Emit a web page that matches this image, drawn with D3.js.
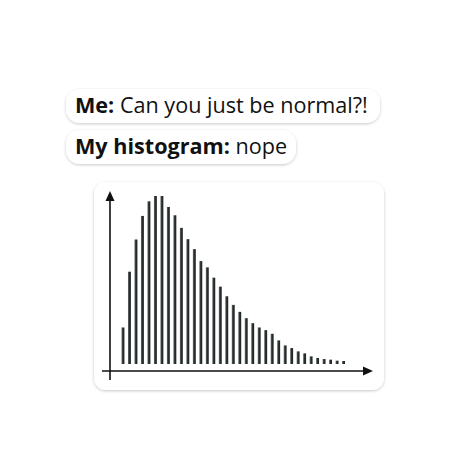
<!DOCTYPE html>
<html><head><meta charset="utf-8">
<script src="https://cdn.jsdelivr.net/npm/d3@7"></script>
<style>body{margin:0;background:#fff}</style></head>
<body><svg id="c" width="474" height="474"></svg>
<script>
const values=[110,278,375,446,490,506,506,473,448,410,376,346,310,291,260,233,204,178,157,138,123,110,102,91,71,56,48,38,32,23,18,15,13,10,9];
const bins=d3.range(values.length);
const line1Bold="Me:", line1Rest=" Can you just be normal?!";
const line2Bold="My histogram:", line2Rest=" nope";

const svg=d3.select("#c");
const defs=svg.append("defs");
const f=defs.append("filter").attr("id","sh").attr("x","-10%").attr("y","-20%").attr("width","120%").attr("height","140%");
f.append("feDropShadow").attr("dx",0).attr("dy",1).attr("stdDeviation",1.5).attr("flood-color","#000").attr("flood-opacity",0.22);
const g=defs.append("linearGradient").attr("id","bar");
g.append("stop").attr("offset","0").attr("stop-color","#6a7070");
g.append("stop").attr("offset","0.45").attr("stop-color","#2a3030");
g.append("stop").attr("offset","1").attr("stop-color","#1c2222");

svg.append("rect").attr("x",66).attr("y",89).attr("width",314).attr("height",34).attr("rx",14).attr("fill","#fff").attr("filter","url(#sh)");
svg.append("rect").attr("x",66).attr("y",130).attr("width",230).attr("height",34).attr("rx",14).attr("fill","#fff").attr("filter","url(#sh)");
svg.append("rect").attr("x",94).attr("y",182).attr("width",290).attr("height",208).attr("rx",12).attr("fill","#fff").attr("filter","url(#sh)");

const t1=svg.append("text").attr("x",75).attr("y",113).attr("font-family","Open Sans").attr("font-size",21.6).attr("fill","#111");
t1.append("tspan").attr("font-weight","bold").text(line1Bold);
t1.append("tspan").text(line1Rest);
const t2=svg.append("text").attr("x",75).attr("y",154).attr("font-family","Open Sans").attr("font-size",21.6).attr("fill","#111");
t2.append("tspan").attr("font-weight","bold").text(line2Bold);
t2.append("tspan").text(line2Rest);

const x=d3.scaleBand().domain(bins).range([121.5,345]).paddingInner(0.55).paddingOuter(0);
const y=d3.scaleLinear().domain([0,506]).range([364,196]);
svg.append("g").selectAll("rect").data(values).join("rect")
 .attr("x",(d,i)=>x(i)).attr("width",x.bandwidth()).attr("y",d=>y(d)).attr("height",d=>y(0)-y(d)).attr("fill","url(#bar)");

svg.append("line").attr("x1",110).attr("x2",110).attr("y1",196).attr("y2",380).attr("stroke","#111").attr("stroke-width",1.6);
svg.append("path").attr("d","M110,191 L105.5,201 L114.5,201 Z").attr("fill","#111");
svg.append("line").attr("x1",102).attr("x2",368).attr("y1",371).attr("y2",371).attr("stroke","#111").attr("stroke-width",1.6);
svg.append("path").attr("d","M373,371 L363,366.5 L363,375.5 Z").attr("fill","#111");
</script></body></html>
